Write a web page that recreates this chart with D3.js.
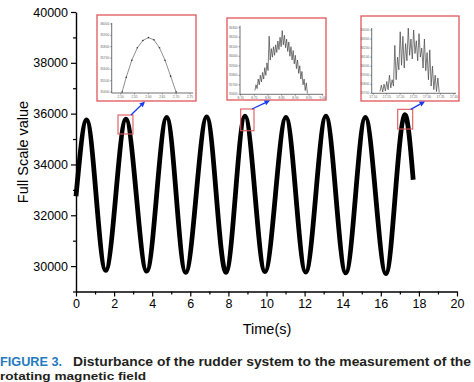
<!DOCTYPE html>
<html><head><meta charset="utf-8">
<script src="https://cdn.jsdelivr.net/npm/d3@7"></script>
<style>body{margin:0;background:#fff}svg{display:block}</style>
</head><body>
<svg id="chart" width="474" height="382"></svg>
<script>
// ---------- data ----------
const timeS = [0, 0.55, 1.055, 1.56, 2.09, 2.62, 3.165, 3.71, 4.235, 4.76, 5.26, 5.76, 6.31, 6.86, 7.365, 7.87, 8.37, 8.87, 9.395, 9.92, 10.47, 11.02, 11.54, 12.06, 12.59, 13.12, 13.64, 14.16, 14.675, 15.19, 15.73, 16.27, 16.76, 17.25, 17.70];
const fullScale = [32750, 35750, 32790, 29830, 32800, 35780, 32800, 29800, 32820, 35850, 32800, 29750, 32810, 35870, 32800, 29750, 32830, 35900, 32840, 29780, 32810, 35850, 32800, 29760, 32830, 35900, 32810, 29730, 32790, 35850, 32780, 29700, 32820, 35950, 33400];
const xTicks = [0, 2, 4, 6, 8, 10, 12, 14, 16, 18, 20];
const xMinor = [1, 3, 5, 7, 9, 11, 13, 15, 17, 19];
const yTicks = [30000, 32000, 34000, 36000, 38000, 40000];
const yMinor = [29000, 31000, 33000, 35000, 37000, 39000];

// zoomed regions (time range, value range) marked by red boxes
const zoomT0 = [2.205, 8.646, 16.887];
const zoomT1 = [2.99, 9.344, 17.675];
const zoomV0 = [35199, 35328, 35394];
const zoomV1 = [35946, 36182, 36170];

// inset 1 (smooth peak)
const in1X = [2.505, 2.52, 2.54, 2.56, 2.58, 2.60, 2.62, 2.64, 2.66, 2.68, 2.70];
const in1Y = [35400, 35530, 35680, 35790, 35855, 35880, 35860, 35790, 35680, 35540, 35400];
const in1XTicks = [2.50, 2.55, 2.60, 2.65, 2.70, 2.75];
const in1YTicks = [35400, 35500, 35600, 35700, 35800, 35900, 36000];
// inset 2 (noisy peak)
const in2X = [8.752, 8.756, 8.760, 8.764, 8.768, 8.772, 8.776, 8.780, 8.784, 8.788, 8.792, 8.796, 8.800, 8.804, 8.808, 8.812, 8.816, 8.820, 8.824, 8.828, 8.832, 8.836, 8.840, 8.844, 8.848, 8.852, 8.856, 8.860, 8.864, 8.868, 8.872, 8.876, 8.880, 8.884, 8.888, 8.892, 8.896, 8.900, 8.904, 8.908, 8.912, 8.916, 8.920, 8.924, 8.928, 8.932, 8.936, 8.940, 8.944];
const in2Y = [35640, 35700, 35660, 35760, 35700, 35800, 35730, 35830, 35760, 35880, 35800, 35930, 35850, 36210, 35960, 36080, 35990, 36100, 36010, 36120, 36040, 36160, 36070, 36200, 36100, 36270, 36120, 36220, 36090, 36180, 36050, 36150, 36000, 36100, 35960, 36060, 35920, 36010, 35870, 35960, 35820, 35900, 35760, 35840, 35700, 35760, 35640, 35720, 35610];
const in2XTicks = [8.70, 8.75, 8.80, 8.85, 8.90, 8.95, 9.00];
const in2YTicks = [35600, 35700, 35800, 35900, 36000, 36100, 36200, 36300];
// inset 3 (very noisy peak)
const in3X = [17.125, 17.130, 17.135, 17.140, 17.145, 17.150, 17.155, 17.160, 17.165, 17.170, 17.175, 17.180, 17.185, 17.190, 17.195, 17.200, 17.205, 17.210, 17.215, 17.220, 17.225, 17.230, 17.235, 17.240, 17.245, 17.250, 17.255, 17.260, 17.265, 17.270, 17.275, 17.280, 17.285, 17.290, 17.295, 17.300, 17.305, 17.310, 17.315, 17.320, 17.325, 17.330, 17.335, 17.340, 17.345];
const in3Y = [35720, 35790, 35715, 35800, 35725, 35830, 35740, 35900, 35760, 35850, 35780, 36230, 35850, 36100, 35960, 36380, 36010, 36330, 35980, 36250, 36060, 36420, 36120, 36300, 36080, 36400, 36140, 36280, 36060, 36360, 36100, 36200, 35980, 36300, 35950, 36150, 35850, 36180, 35780, 36000, 35740, 35900, 35720, 35870, 35710];
const in3XTicks = [17.10, 17.15, 17.20, 17.25, 17.30, 17.35, 17.40];
const in3YTicks = [35700, 35800, 35900, 36000, 36100, 36200, 36300, 36400];

const xLabel = "Time(s)";
const yLabel = "Full Scale value";
const capFig = "FIGURE 3.";
const capText1 = "Disturbance of the rudder system to the measurement of the";
const capText2 = "rotating magnetic field";

// ---------- drawing ----------
const svg = d3.select("#chart");
const FONT = "'Liberation Sans', Arial, sans-serif";
const x = d3.scaleLinear().domain([0, 20]).range([76, 457]);
const y = d3.scaleLinear().domain([29000, 40000]).range([291.5, 12]);

// axes
const gx = svg.append("g").attr("transform", "translate(0,291.5)");
gx.call(d3.axisBottom(x).tickValues(xTicks).tickSize(5).tickSizeOuter(0).tickPadding(3).tickFormat(d3.format("d")));
const gxm = svg.append("g").attr("transform", "translate(0,291.5)");
gxm.call(d3.axisBottom(x).tickValues(xMinor).tickSize(3).tickSizeOuter(0).tickFormat(""));
gxm.select(".domain").remove();
const gy = svg.append("g").attr("transform", "translate(76,0)");
gy.call(d3.axisLeft(y).tickValues(yTicks).tickSize(5).tickSizeOuter(0).tickPadding(3).tickFormat(d3.format("d")));
const gym = svg.append("g").attr("transform", "translate(76,0)");
gym.call(d3.axisLeft(y).tickValues(yMinor).tickSize(3).tickSizeOuter(0).tickFormat(""));
gym.select(".domain").remove();
svg.selectAll(".domain").attr("stroke", "#000").attr("stroke-width", 1.4);
svg.selectAll(".tick line").attr("stroke", "#000").attr("stroke-width", 1.2);
svg.selectAll(".tick text").attr("font-family", FONT).attr("font-size", 12.5).attr("fill", "#000");

svg.append("text").attr("x", 267).attr("y", 334).attr("text-anchor", "middle")
  .attr("font-family", FONT).attr("font-size", 14.5).text(xLabel);
svg.append("text").attr("transform", "translate(28,152) rotate(-90)").attr("text-anchor", "middle")
  .attr("font-family", FONT).attr("font-size", 14.5).text(yLabel);

// main curve
const pts = timeS.map((t, i) => [t, fullScale[i]]);
svg.append("path").datum(pts)
  .attr("fill", "none").attr("stroke", "#000").attr("stroke-width", 4.8).attr("stroke-linejoin", "round")
  .attr("d", d3.line().x(d => x(d[0])).y(d => y(d[1])).curve(d3.curveNatural));

// red boxes on the curve
const RED = "#e0575a";
zoomT0.forEach((t0, i) => {
  svg.append("rect").attr("x", x(t0)).attr("y", y(zoomV1[i]))
    .attr("width", x(zoomT1[i]) - x(t0)).attr("height", y(zoomV0[i]) - y(zoomV1[i]))
    .attr("fill", "none").attr("stroke", RED).attr("stroke-width", 1.1);
});

// insets
const insets = [
  {box: [97, 15, 99, 86], ax: {l: 111.7, r: 193, b: 93, t: 23}, xr: [120.7, 190], yr: [92, 24],
   X: in1X, Y: in1Y, xt: in1XTicks, yt: in1YTicks, dots: true, arrowHead: 145},
  {box: [227, 18, 99, 82], ax: {l: 240, r: 323, b: 94.3, t: 25.7}, xr: [240.7, 322.7], yr: [94.3, 27.7],
   X: in2X, Y: in2Y, xt: in2XTicks, yt: in2YTicks, dots: false, arrowHead: 270},
  {box: [361, 16, 98, 85], ax: {l: 371.7, r: 456, b: 93.3, t: 28}, xr: [373.3, 454], yr: [93.3, 30],
   X: in3X, Y: in3Y, xt: in3XTicks, yt: in3YTicks, dots: false, arrowHead: 425}
];
insets.forEach((c, i) => {
  const g = svg.append("g");
  g.append("rect").attr("x", c.box[0]).attr("y", c.box[1]).attr("width", c.box[2]).attr("height", c.box[3])
    .attr("fill", "#fff").attr("stroke", RED).attr("stroke-width", 1.3);
  const ix = d3.scaleLinear().domain([c.xt[0], c.xt[c.xt.length - 1]]).range(c.xr);
  const iy = d3.scaleLinear().domain([c.yt[0], c.yt[c.yt.length - 1]]).range(c.yr);
  g.append("line").attr("x1", c.ax.l).attr("x2", c.ax.l).attr("y1", c.ax.t).attr("y2", c.ax.b).attr("stroke", "#333").attr("stroke-width", 0.7);
  g.append("line").attr("x1", c.ax.l).attr("x2", c.ax.r).attr("y1", c.ax.b).attr("y2", c.ax.b).attr("stroke", "#333").attr("stroke-width", 0.7);
  c.xt.forEach(v => {
    g.append("line").attr("x1", ix(v)).attr("x2", ix(v)).attr("y1", c.ax.b).attr("y2", c.ax.b + 1.5).attr("stroke", "#444").attr("stroke-width", 0.5);
    g.append("text").attr("x", ix(v)).attr("y", c.ax.b + 5).attr("text-anchor", "middle")
      .attr("font-family", FONT).attr("font-size", 3.2).attr("fill", "#666").text(v.toFixed(2));
  });
  c.yt.forEach(v => {
    g.append("line").attr("x1", c.ax.l - 1.5).attr("x2", c.ax.l).attr("y1", iy(v)).attr("y2", iy(v)).attr("stroke", "#444").attr("stroke-width", 0.5);
    g.append("text").attr("x", c.ax.l - 2.5).attr("y", iy(v) + 1).attr("text-anchor", "end")
      .attr("font-family", FONT).attr("font-size", 3.2).attr("fill", "#666").text(v);
  });
  const ip = c.X.map((t, k) => [t, c.Y[k]]);
  g.append("path").datum(ip).attr("fill", "none").attr("stroke", "#444").attr("stroke-width", c.dots ? 0.6 : 0.7)
    .attr("d", d3.line().x(d => ix(d[0])).y(d => iy(d[1])));
  if (c.dots) {
    g.selectAll("circle").data(ip).enter().append("circle")
      .attr("cx", d => ix(d[0])).attr("cy", d => iy(d[1])).attr("r", 0.8).attr("fill", "#333");
  }
  // arrow from red box to inset
  const tx = x(zoomT1[i]) - 2, ty = y(zoomV1[i]);
  const hx = c.arrowHead, hy = c.box[1] + c.box[3] + 0.5;
  const ang = Math.atan2(hy - ty, hx - tx);
  const L = 5.5, W = 2.6;
  const bx = hx - L * Math.cos(ang), by = hy - L * Math.sin(ang);
  svg.append("line").attr("x1", tx).attr("y1", ty).attr("x2", bx).attr("y2", by)
    .attr("stroke", "#1a3cf0").attr("stroke-width", 1.3);
  svg.append("path").attr("fill", "#1a3cf0")
    .attr("d", `M${hx},${hy}L${bx + W * Math.sin(ang)},${by - W * Math.cos(ang)}L${bx - W * Math.sin(ang)},${by + W * Math.cos(ang)}Z`);
});

// caption
const CAPF = "'Liberation Sans', Arial, sans-serif";
function fitWidth(sel, target) {
  sel.attr("textLength", target).attr("lengthAdjust", "spacingAndGlyphs");
}
const c0 = svg.append("text").attr("x", 0).attr("y", 366).attr("font-family", CAPF).attr("font-weight", 700)
  .attr("font-size", 12.5).attr("fill", "#2479bd").text(capFig);
fitWidth(c0, 62);
const c1 = svg.append("text").attr("x", 73).attr("y", 366).attr("font-family", CAPF).attr("font-weight", 700)
  .attr("font-size", 12.5).attr("fill", "#231f20").text(capText1);
fitWidth(c1, 398);
const c2 = svg.append("text").attr("x", 0).attr("y", 379.5).attr("font-family", CAPF).attr("font-weight", 700)
  .attr("font-size", 11).attr("fill", "#231f20").text(capText2);
fitWidth(c2, 146);
</script>
</body></html>
